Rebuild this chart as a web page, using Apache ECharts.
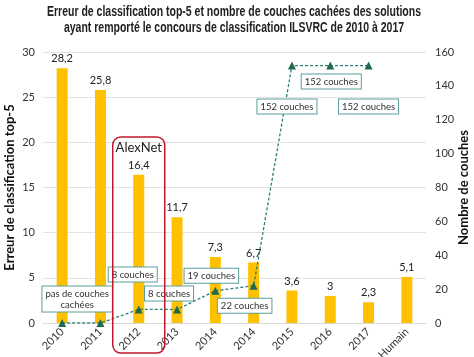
<!DOCTYPE html>
<html><head><meta charset="utf-8">
<script src="https://cdn.jsdelivr.net/npm/echarts@6/dist/echarts.min.js"></script>
<style>html,body{margin:0;padding:0;background:#fff}#c{width:474px;height:357px}</style>
</head><body><div id="c"></div>
<script>
var categories = ['2010','2011','2012','2013','2014','2014','2015','2016','2017','Humain'];
var errorTop5 = [28.2, 25.8, 16.4, 11.7, 7.3, 6.7, 3.6, 3, 2.3, 5.1];
var layers = [0, 0, 8, 8, 19, 22, 152, 152, 152, null];
var layerLabels = ['pas de couches\ncachées', '', '8 couches', '8 couches', '19 couches', '22 couches', '152 couches', '152 couches', '152 couches', ''];
var labelOffsets = [[15,-24],[0,0],[-6,-35],[-8,-16],[-4,-15],[-9,20],[-5,41],[1,16],[0,41],[0,0]];
var titleLines = ['Erreur de classification top-5 et nombre de couches cachées des solutions',
                  'ayant remporté le concours de classification ILSVRC de 2010 à 2017'];

var FONT = 'Lato, "DejaVu Sans", sans-serif';
var chart = echarts.init(document.getElementById('c'));
var lineData = layers.map(function(v,i){
  return {
    value: v,
    label: {
      show: !!layerLabels[i],
      formatter: layerLabels[i],
      position: 'inside',
      offset: labelOffsets[i]
    }
  };
});
chart.setOption({
  animation: false,
  textStyle: {fontFamily: FONT},
  grid: {left: 43, right: 48, top: 52, bottom: 34, outerBoundsMode: 'none', containLabel: false},
  xAxis: {
    type: 'category', data: categories,
    axisLine: {lineStyle: {color: '#d9d9d9'}},
    axisTick: {show: false},
    axisLabel: {rotate: 45, fontSize: 11, color: '#333', margin: 7, interval: 0}
  },
  yAxis: [{
    type: 'value', min: 0, max: 30, interval: 5,
    name: 'Erreur de classification top-5', nameLocation: 'middle', nameGap: 27, nameMoveOverlap: false,
    nameTextStyle: {fontWeight: 'bold', fontSize: 13, color: '#111'},
    axisLine: {show: false}, axisTick: {show: false},
    axisLabel: {color: '#333', fontSize: 11, margin: 8},
    splitLine: {lineStyle: {color: '#e3e3e3'}}
  },{
    type: 'value', min: 0, max: 160, interval: 20,
    name: 'Nombre de couches', nameLocation: 'middle', nameGap: 31, nameMoveOverlap: false,
    nameTextStyle: {fontWeight: 'bold', fontSize: 13, color: '#111'},
    axisLine: {show: false}, axisTick: {show: false},
    axisLabel: {color: '#333', fontSize: 11, margin: 9},
    splitLine: {show: false}
  }],
  series: [{
    type: 'bar', data: errorTop5, barWidth: 11,
    itemStyle: {color: '#FFC000'},
    label: {show: true, position: 'top', distance: 4, color: '#222', fontSize: 11,
      formatter: function(p){ return String(p.value).replace('.', ','); }}
  },{
    type: 'line', yAxisIndex: 1, data: lineData, z: 5,
    lineStyle: {color: '#2a7f7c', type: [3,2], width: 1.3},
    symbol: 'triangle', symbolSize: 8,
    itemStyle: {color: '#1d6a4d'},
    label: {
      color: '#333', fontSize: 9.5, backgroundColor: '#fff',
      borderColor: '#5a9f9c', borderWidth: 1, padding: [2,3,1,3], lineHeight: 11
    }
  }]
});

var cx = chart.convertToPixel({xAxisIndex: 0}, 2);
var yTop = chart.convertToPixel({yAxisIndex: 0}, 20.6);
var y0 = chart.convertToPixel({yAxisIndex: 0}, 0);
chart.setOption({
  graphic: [{
    type: 'rect', z: 10,
    shape: {x: cx - 26, y: yTop, width: 52, height: y0 + 30 - yTop, r: 8},
    style: {fill: 'none', stroke: '#c0182a', lineWidth: 1.5}
  },{
    type: 'text', z: 10, x: cx, y: yTop + 11,
    style: {text: 'AlexNet', fill: '#222', font: '13px ' + FONT, textAlign: 'center', textVerticalAlign: 'middle'}
  },{
    type: 'text', z: 10, x: 234, y: 12, scaleX: 0.75,
    style: {text: titleLines[0], fill: '#222', font: 'bold 14px "Liberation Sans", Arial, sans-serif', textAlign: 'center', textVerticalAlign: 'middle'}
  },{
    type: 'text', z: 10, x: 234, y: 28, scaleX: 0.75,
    style: {text: titleLines[1], fill: '#222', font: 'bold 14px "Liberation Sans", Arial, sans-serif', textAlign: 'center', textVerticalAlign: 'middle'}
  }]
});
</script></body></html>
